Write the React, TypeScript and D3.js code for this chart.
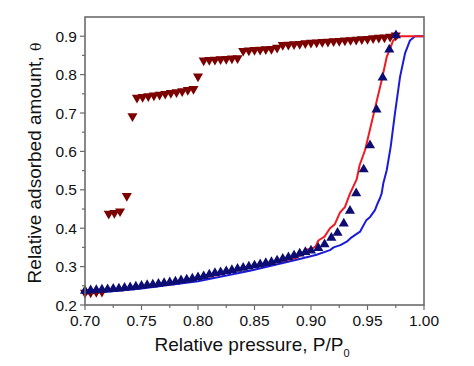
import { useMemo } from "react";
import * as d3 from "d3";

// desorption branch (down triangles)
const desX = [
  0.7, 0.705, 0.71, 0.715, 0.721, 0.726, 0.731, 0.737, 0.742, 0.746, 0.751, 0.756, 0.761, 0.766, 0.771, 0.776,
  0.781, 0.786, 0.791, 0.796, 0.8, 0.805, 0.81, 0.815, 0.82, 0.825, 0.83, 0.835, 0.84, 0.845, 0.85, 0.855, 0.86,
  0.865, 0.87, 0.875, 0.88, 0.885, 0.89, 0.895, 0.9, 0.905, 0.91, 0.915, 0.92, 0.925, 0.93, 0.935, 0.94, 0.945,
  0.95, 0.955, 0.96, 0.965, 0.97, 0.975,
];
const desY = [
  0.232, 0.233, 0.234, 0.235, 0.438, 0.44, 0.444, 0.484, 0.692, 0.74, 0.742, 0.744, 0.746, 0.748, 0.75, 0.752,
  0.754, 0.757, 0.76, 0.763, 0.795, 0.837, 0.838, 0.839, 0.84, 0.841, 0.842, 0.843, 0.862, 0.863, 0.864, 0.865,
  0.866, 0.867, 0.87, 0.877, 0.878, 0.879, 0.88, 0.882, 0.883, 0.884, 0.885, 0.886, 0.887, 0.888, 0.889, 0.89,
  0.891, 0.892, 0.893, 0.895, 0.896, 0.897, 0.899, 0.902,
];

// adsorption branch (up triangles)
const adsX = [
  0.7, 0.705, 0.71, 0.715, 0.72, 0.725, 0.73, 0.735, 0.74, 0.745, 0.75, 0.755, 0.76, 0.765, 0.77, 0.775, 0.78,
  0.785, 0.79, 0.795, 0.8, 0.805, 0.81, 0.815, 0.82, 0.825, 0.83, 0.835, 0.84, 0.845, 0.85, 0.855, 0.86, 0.865,
  0.87, 0.875, 0.88, 0.885, 0.89, 0.895, 0.9, 0.9065, 0.912, 0.918, 0.9235, 0.929, 0.9345, 0.94, 0.9466, 0.9522,
  0.958, 0.9634, 0.9693, 0.9752,
];
const adsY = [
  0.237, 0.238, 0.239, 0.24, 0.241, 0.242, 0.243, 0.245, 0.246, 0.248, 0.25, 0.252, 0.253, 0.255, 0.257, 0.259,
  0.261, 0.264, 0.266, 0.269, 0.272, 0.275, 0.279, 0.283, 0.285, 0.288, 0.291, 0.294, 0.297, 0.3, 0.303, 0.306,
  0.309, 0.312, 0.316, 0.32, 0.324, 0.329, 0.334, 0.338, 0.342, 0.348, 0.358, 0.375, 0.388, 0.412, 0.445, 0.491,
  0.553, 0.616, 0.709, 0.792, 0.865, 0.902,
];

// red curve
const redX = [
  0.7, 0.75, 0.8, 0.815, 0.846, 0.87, 0.886, 0.89, 0.8947, 0.9006, 0.904, 0.9065, 0.912, 0.9168, 0.921, 0.9257,
  0.93, 0.9345, 0.9404, 0.943, 0.9478, 0.9493, 0.9566, 0.9626, 0.967, 0.9728, 0.9788, 1.0,
];
const redY = [
  0.233, 0.247, 0.268, 0.277, 0.298, 0.312, 0.322, 0.328, 0.343, 0.347, 0.352, 0.368, 0.378, 0.4, 0.41, 0.441,
  0.455, 0.49, 0.527, 0.564, 0.603, 0.621, 0.712, 0.786, 0.846, 0.889, 0.9, 0.9,
];

// blue curve
const blueX = [
  0.7, 0.75, 0.8, 0.846, 0.89, 0.905, 0.9168, 0.92, 0.926, 0.9316, 0.935, 0.9434, 0.946, 0.949, 0.9525, 0.9566,
  0.959, 0.961, 0.9625, 0.964, 0.967, 0.9705, 0.9743, 0.9788, 0.9832, 0.9876, 0.992, 1.0,
];
const blueY = [
  0.229, 0.243, 0.262, 0.289, 0.32, 0.331, 0.343, 0.35, 0.356, 0.365, 0.374, 0.391, 0.405, 0.421, 0.43, 0.447,
  0.465, 0.478, 0.49, 0.517, 0.551, 0.612, 0.699, 0.794, 0.855, 0.889, 0.9, 0.9,
];

const xTicks = [0.7, 0.75, 0.8, 0.85, 0.9, 0.95, 1.0];
const yTicks = [0.2, 0.3, 0.4, 0.5, 0.6, 0.7, 0.8, 0.9];

const W = 474;
const H = 366;
const m = { left: 85, right: 50, top: 17, bottom: 61 };
const font = "'Liberation Sans', Arial, sans-serif";
const frame = "#6b6b6b";

export default function App() {
  const x = d3.scaleLinear().domain([0.7, 1.0]).range([m.left, W - m.right]);
  const y = d3.scaleLinear().domain([0.2, 0.95]).range([H - m.bottom, m.top]);

  const line = d3
    .line<[number, number]>()
    .x((d) => x(d[0]))
    .y((d) => y(d[1]));

  const tri = useMemo(() => d3.symbol(d3.symbolTriangle, 44)(), []) as string;

  const xMinor = d3.range(0.725, 1.0, 0.05);
  const yMinor = d3.range(0.25, 0.95, 0.1);

  return (
    <svg width={W} height={H} style={{ position: "absolute", left: 0, top: 0, background: "#fff" }}>
      {/* lines */}
      <g fill="none" strokeWidth={2} strokeLinejoin="round">
        <path d={line(blueX.map((v, i) => [v, blueY[i]]))!} stroke="#1c1cd8" />
        <path d={line(redX.map((v, i) => [v, redY[i]]))!} stroke="#ee1b22" />
      </g>

      {/* markers */}
      <g fill="#7d0000">
        {desX.map((v, i) => (
          <path key={`d${i}`} d={tri} transform={`translate(${x(v)},${y(desY[i])}) rotate(180)`} />
        ))}
      </g>
      <g fill="#0c0c72">
        {adsX.map((v, i) => (
          <path key={`a${i}`} d={tri} transform={`translate(${x(v)},${y(adsY[i])})`} />
        ))}
      </g>

      {/* frame */}
      <rect
        x={m.left}
        y={m.top}
        width={W - m.left - m.right}
        height={H - m.top - m.bottom}
        fill="none"
        stroke={frame}
        strokeWidth={1.6}
      />

      {/* ticks */}
      <g stroke={frame} strokeWidth={1.2}>
        {xTicks.map((t) => (
          <line key={`xt${t}`} x1={x(t)} x2={x(t)} y1={H - m.bottom} y2={H - m.bottom + 5} />
        ))}
        {xMinor.map((t) => (
          <line key={`xm${t}`} x1={x(t)} x2={x(t)} y1={H - m.bottom} y2={H - m.bottom + 3} />
        ))}
        {yTicks.map((t) => (
          <line key={`yt${t}`} x1={m.left - 5} x2={m.left} y1={y(t)} y2={y(t)} />
        ))}
        {yMinor.map((t) => (
          <line key={`ym${t}`} x1={m.left - 3} x2={m.left} y1={y(t)} y2={y(t)} />
        ))}
      </g>
      <g fontFamily={font} fontSize={15.5} fill="#111">
        {xTicks.map((t) => (
          <text key={`xl${t}`} x={x(t)} y={H - m.bottom + 21} textAnchor="middle">
            {d3.format(".2f")(t)}
          </text>
        ))}
        {yTicks.map((t) => (
          <text key={`yl${t}`} x={m.left - 8} y={y(t) + 5.5} textAnchor="end">
            {d3.format(".1f")(t)}
          </text>
        ))}
      </g>

      {/* axis titles */}
      <text x={252} y={351} textAnchor="middle" fontFamily={font} fontSize={19} fill="#111">
        Relative pressure, P/P
        <tspan fontSize={11} dy={6}>
          0
        </tspan>
      </text>
      <text
        transform={`translate(41,${(m.top + H - m.bottom) / 2 + 2}) rotate(-90)`}
        textAnchor="middle"
        fontFamily={font}
        fontSize={19}
        fill="#111"
      >
        Relative adsorbed amount,{" "}
        <tspan fontFamily="'DejaVu Serif', serif" fontSize={14}>
          θ
        </tspan>
      </text>
    </svg>
  );
}
